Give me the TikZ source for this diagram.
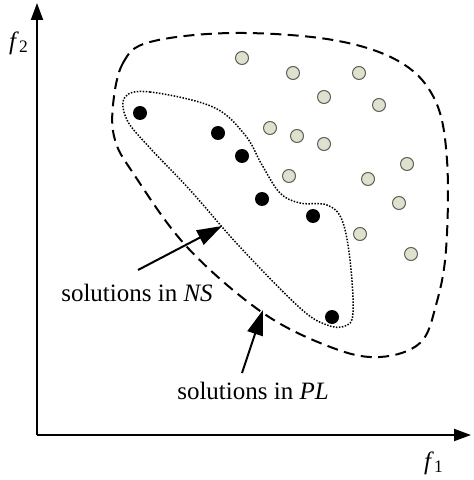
\documentclass[tikz,border=0pt]{standalone}
\usepackage{fontspec}
\setmainfont{Liberation Serif}
\usetikzlibrary{arrows.meta}
\definecolor{dotfill}{RGB}{222,225,205}
\definecolor{dotline}{RGB}{95,95,85}
\begin{document}
\begin{tikzpicture}[
        x=0.5pt, y=-0.5pt,
        axis/.style = {line width=1pt, -{Triangle[length=8.5pt, width=6pt]}},
        pointer/.style = {line width=1pt, -{Triangle[length=12.5pt, width=8pt]}},
        other dot/.style = {circle, draw=dotline, line width=0.5pt, fill=dotfill, minimum size=6.5pt, inner sep=0pt},
        ns dot/.style = {circle, fill=black, minimum size=7pt, inner sep=0pt},
        note/.style = {font=\fontsize{12.5}{15}\selectfont, inner sep=0pt}
    ]
    \useasboundingbox (0,0) rectangle (474,480);

    % axes
    \coordinate (o) at (37,435);
    \coordinate (ytop) at (37,3);
    \coordinate (xend) at (471,435);
    \draw[axis] (o) -- (ytop);
    \draw[axis] (o) -- (xend);
    \node[note] (f2) at (19,43) {\textit{f}\textsubscript{2}};
    \node[note] (f1) at (434,463) {\textit{f}\textsubscript{1}};

    % set PL
    \draw[line width=1pt, dash pattern=on 5.5pt off 3.2pt] plot[smooth cycle, tension=0.6] coordinates {
        (113,105) (123,63) (150,42) (233,33) (333,40) (400,62) (435,100) (447,160)
        (446,250) (436,305) (420,343) (380,357) (333,348) (263,313) (187,247) (133,173) (115,140)};

    % set NS
    \draw[line width=0.75pt, dash pattern=on 0.75pt off 0.75pt] plot[smooth cycle, tension=0.6] coordinates {
        (125,97) (150,92) (213,107) (245,135) (262,165) (280,193) (300,203) (327,205) (342,220)
        (350,260) (353,313) (345,326) (327,325) (300,308) (240,247) (190,190) (150,148) (127,120)};

    % solutions
    \foreach \x/\y [count=\i] in {242/58, 293/73, 359/73, 324/97, 379/105, 270/128, 297/136,
                                  324/144, 407/164, 289/176, 368/179, 399/203, 360/234, 411/254}
        \node[other dot] (g\i) at (\x,\y) {};
    \foreach \x/\y [count=\i] in {140/113, 218/133, 242/156, 262/199, 313/216, 332/317}
        \node[ns dot] (b\i) at (\x,\y) {};

    % labels
    \node[note, anchor=base] (ns) at (137,301) {solutions in \textit{NS}};
    \node[note, anchor=base] (pl) at (253,399) {solutions in \textit{PL}};
    \coordinate (ns tail) at (138,270);
    \coordinate (ns tip) at (222,226);
    \coordinate (pl tail) at (242,373);
    \coordinate (pl tip) at (263,310);
    \draw[pointer] (ns tail) -- (ns tip);
    \draw[pointer] (pl tail) -- (pl tip);
\end{tikzpicture}
\end{document}
